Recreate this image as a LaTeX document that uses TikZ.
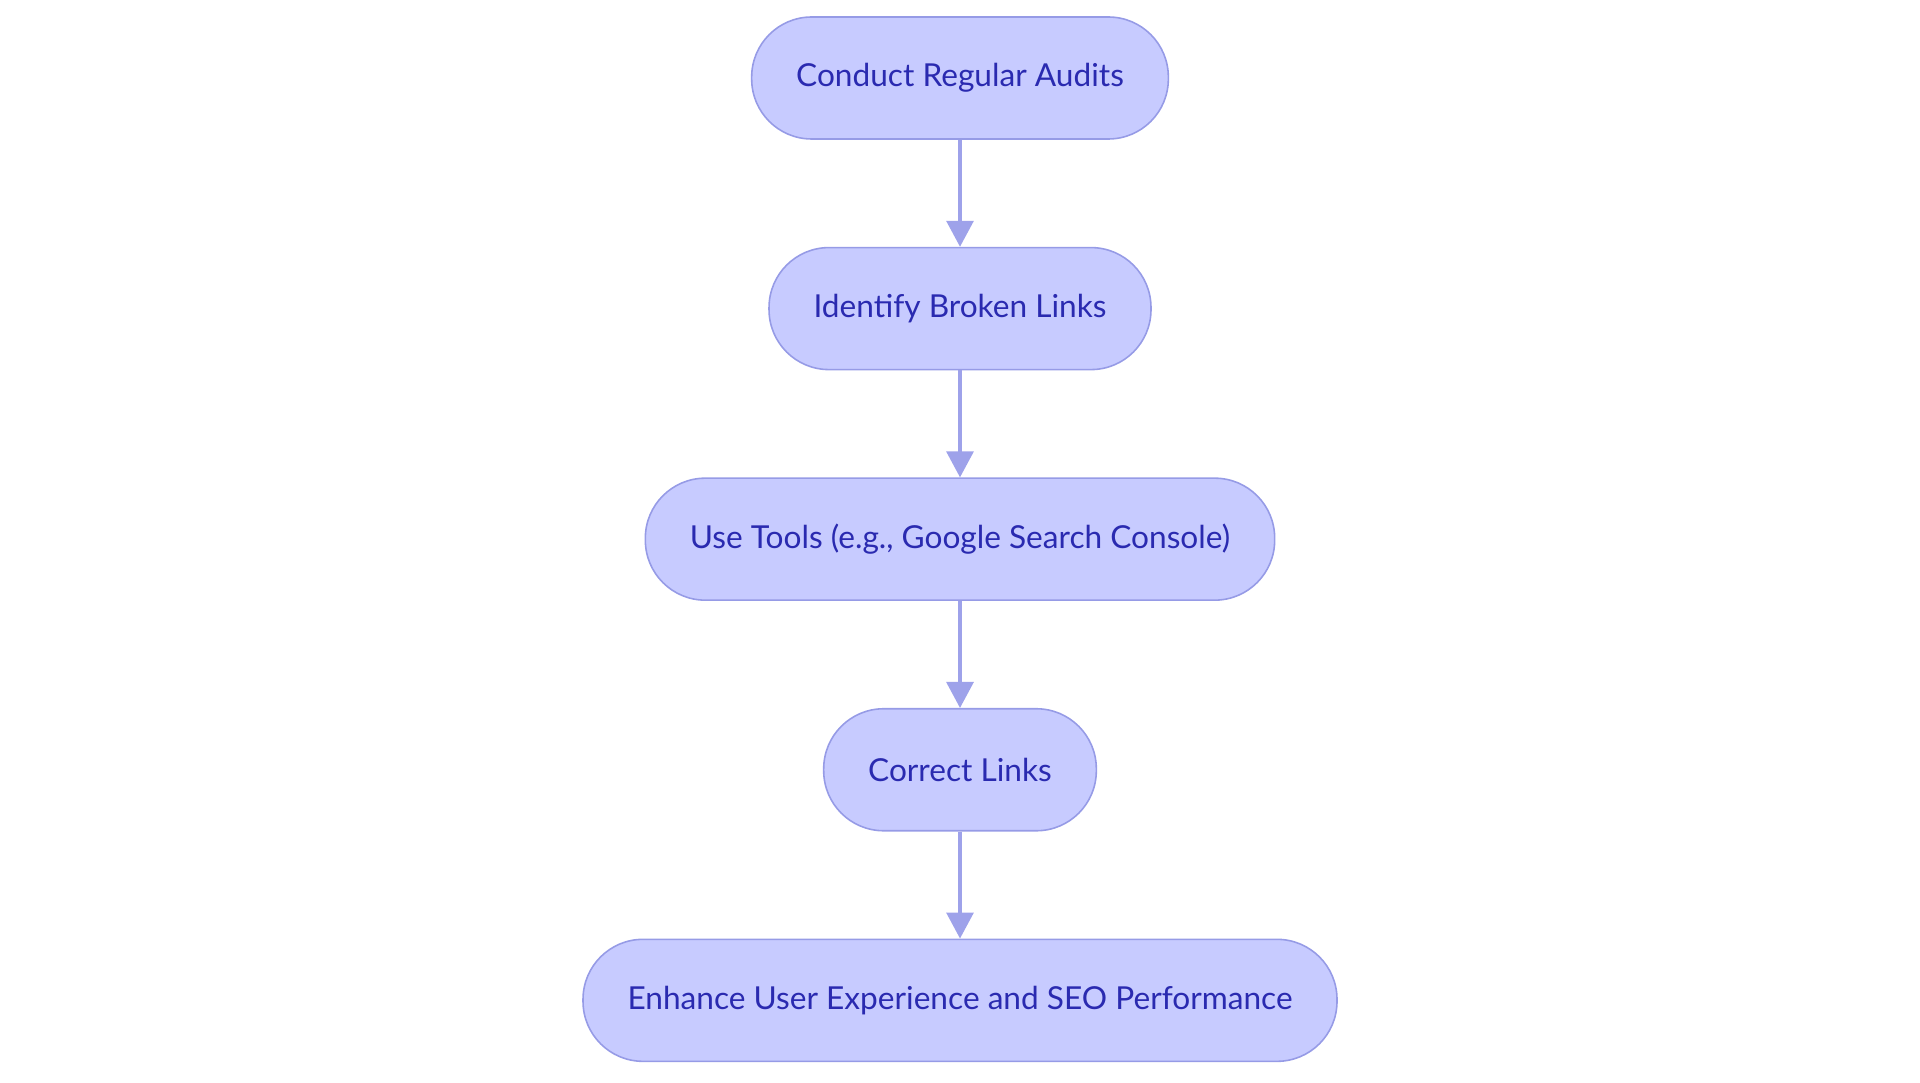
\documentclass[tikz,border=0pt]{standalone}
\usepackage{fontspec}
\setmainfont{Lato}
\usepackage{xcolor}
\usepackage{tikz}
\usetikzlibrary{arrows.meta, positioning}
\definecolor{stepfill}{RGB}{199,203,255}
\definecolor{stepframe}{RGB}{150,155,230}
\definecolor{steptext}{RGB}{42,42,176}
\definecolor{flowline}{RGB}{158,162,234}
\tikzset{
  pill/.style={rectangle, draw=stepframe, fill=stepfill,
    minimum height=1.22cm, inner xsep=0.445cm, rounded corners=0.6cm,
    text=steptext, font=\fontsize{9pt}{11pt}\selectfont, line width=0.45pt},
  flow/.style={-{Triangle[width=0.27cm, length=0.26cm]}, line width=0.9pt, color=flowline}
}
\begin{document}
\begin{tikzpicture}
  \useasboundingbox (0,0) rectangle (19.2,-10.83);

  \node[pill] (audit) at (9.6,-0.78) {Conduct Regular Audits};
  \node[pill, below=1.07cm of audit] (broken) {Identify Broken Links};
  \node[pill, below=1.07cm of broken] (tools) {Use Tools (e.g., Google Search Console)};
  \node[pill, below=1.07cm of tools] (fix) {Correct Links};
  \node[pill, below=1.07cm of fix] (result) {Enhance User Experience and SEO Performance};

  \draw[flow] (audit) -- (broken);
  \draw[flow] (broken) -- (tools);
  \draw[flow] (tools) -- (fix);
  \draw[flow] (fix) -- (result);
\end{tikzpicture}
\end{document}
